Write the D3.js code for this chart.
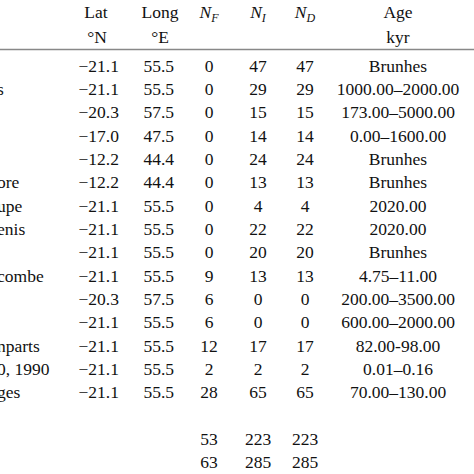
<!DOCTYPE html>
<html><head><meta charset="utf-8">
<script src="https://cdn.jsdelivr.net/npm/d3@7"></script>
<style>body{margin:0;background:#fff}text{font-family:"Liberation Serif","Times New Roman",serif;font-size:17.5px;fill:#111}</style>
</head><body><svg id="c" width="474" height="474"></svg>
<script>
"use strict";
// names are cut off at the left edge of the picture
var names = ["", "s", "", "", "", "ore", "upe", "enis", "", "combe", "", "", "nparts", "0, 1990", "ges"];
var lat = ["\u221221.1","\u221221.1","\u221220.3","\u221217.0","\u221212.2","\u221212.2","\u221221.1","\u221221.1","\u221221.1","\u221221.1","\u221220.3","\u221221.1","\u221221.1","\u221221.1","\u221221.1"];
var lon = ["55.5","55.5","57.5","47.5","44.4","44.4","55.5","55.5","55.5","55.5","57.5","55.5","55.5","55.5","55.5"];
var nF = [0,0,0,0,0,0,0,0,0,9,6,6,12,2,28];
var nI = [47,29,15,14,24,13,4,22,20,13,0,0,17,2,65];
var nD = [47,29,15,14,24,13,4,22,20,13,0,0,17,2,65];
var age = ["Brunhes","1000.00\u20132000.00","173.00\u20135000.00","0.00\u20131600.00","Brunhes","Brunhes","2020.00","2020.00","Brunhes","4.75\u201311.00","200.00\u20133500.00","600.00\u20132000.00","82.00-98.00","0.01\u20130.16","70.00\u2013130.00"];
var totF = [53, 63], totI = [223, 285], totD = [223, 285];

var svg = d3.select("#c");
var y = d3.scaleBand().domain(d3.range(15)).range([54, 404]);
var yt = d3.scaleBand().domain([0, 1]).range([427, 474]);
var col = {lat: 119, lon: 174, f: 209, i: 258, d: 305, age: 398};

// header
[["Lat", 96], ["Long", 160], ["Age", 398]].forEach(function(h){
    svg.append("text").attr("x", h[1]).attr("y", 18).attr("text-anchor","middle").text(h[0]);
});
[["\u00b0N", 97], ["\u00b0E", 160], ["kyr", 398]].forEach(function(h){
    svg.append("text").attr("x", h[1]).attr("y", 43).attr("text-anchor","middle").text(h[0]);
});
[["F", 209], ["I", 258], ["D", 305]].forEach(function(h){
    var t = svg.append("text").attr("x", h[1]).attr("y", 18).attr("text-anchor","middle").style("font-style","italic");
    t.append("tspan").text("N");
    t.append("tspan").attr("dy", 4).style("font-size","12px").text(h[0]);
});
svg.append("line").attr("x1",0).attr("x2",474).attr("y1",49.5).attr("y2",49.5).attr("stroke","#888").attr("stroke-width",1.3);

function rowY(i){ return y(i) + y.bandwidth()/2 + 6; }
d3.range(15).forEach(function(i){
    var g = svg.append("g");
    g.append("text").attr("x", -3).attr("y", rowY(i)).text(names[i]);
    g.append("text").attr("x", col.lat).attr("y", rowY(i)).attr("text-anchor","end").text(lat[i]);
    g.append("text").attr("x", col.lon).attr("y", rowY(i)).attr("text-anchor","end").text(lon[i]);
    g.append("text").attr("x", col.f).attr("y", rowY(i)).attr("text-anchor","middle").text(nF[i]);
    g.append("text").attr("x", col.i).attr("y", rowY(i)).attr("text-anchor","middle").text(nI[i]);
    g.append("text").attr("x", col.d).attr("y", rowY(i)).attr("text-anchor","middle").text(nD[i]);
    g.append("text").attr("x", col.age).attr("y", rowY(i)).attr("text-anchor","middle").text(age[i]);
});
[0, 1].forEach(function(k){
    var yy = yt(k) + yt.bandwidth()/2 + 6;
    svg.append("text").attr("x", col.f).attr("y", yy).attr("text-anchor","middle").text(totF[k]);
    svg.append("text").attr("x", col.i).attr("y", yy).attr("text-anchor","middle").text(totI[k]);
    svg.append("text").attr("x", col.d).attr("y", yy).attr("text-anchor","middle").text(totD[k]);
});
</script></body></html>
